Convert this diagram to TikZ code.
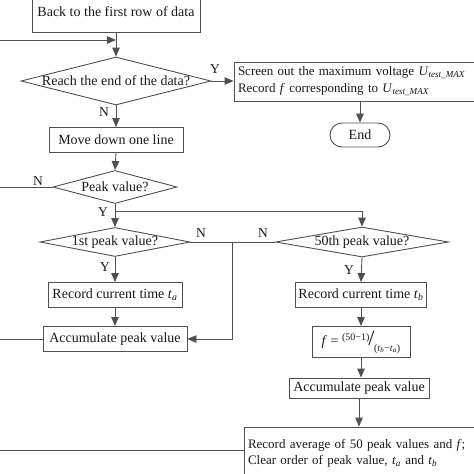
\documentclass[tikz,border=0pt]{standalone}
\usepackage{fontspec}
\setmainfont{Liberation Serif}
\usetikzlibrary{shapes.geometric,arrows.meta}
\definecolor{ln}{HTML}{505050}
\definecolor{tx}{HTML}{1A1A1A}
\newcommand{\itx}[1]{\textit{#1}}
\begin{document}
\begin{tikzpicture}[x=1pt,y=-1pt,
  every node/.style={font=\fontsize{14}{18}\selectfont, text=tx},
  box/.style={draw=ln, line width=0.9pt, rectangle, inner sep=0pt, fill=white},
  dia/.style={draw=ln, line width=0.9pt, diamond, inner sep=0pt, fill=white},
  term/.style={draw=ln, line width=0.9pt, rectangle, rounded corners=12pt, inner sep=0pt},
  lbl/.style={inner sep=0pt, font=\fontsize{13.5}{15}\selectfont},
  con/.style={draw=ln, line width=0.9pt},
  arr/.style={con, -{Triangle[length=9pt,width=7.5pt]}}]
\useasboundingbox (0,0) rectangle (474,474);
\clip (0,0) rectangle (474,474);
\fill[white] (0,0) rectangle (474,474);
% nodes
\node[box, minimum width=168pt, minimum height=40pt] (back) at (116,12) {\raisebox{-3pt}{Back to the first row of data}};
\node[dia, minimum width=190pt, minimum height=48pt] (reach) at (116,81) {\makebox[0pt]{Reach the end of the data?}};
\node[box, text width=247pt, inner xsep=4pt, minimum height=39pt, align=left,
      font=\fontsize{13}{18}\selectfont] (screen) at (361.5,81.5)
  {Screen out the maximum voltage \itx{U}\textsubscript{\itx{test\_MAX}}\\[-1pt]
   Record \itx{f} corresponding to \itx{U}\textsubscript{\itx{test\_MAX}}};
\node[term, minimum width=60pt, minimum height=24pt] (end) at (360,135) {End};
\node[box, minimum width=134pt, minimum height=25pt] (move) at (116,140) {Move down one line};
\node[dia, minimum width=124pt, minimum height=33pt] (peak) at (115,187) {\makebox[0pt]{Peak value?}};
\node[dia, minimum width=150pt, minimum height=29pt] (first) at (115,242) {\makebox[0pt]{1st peak value?}};
\node[dia, minimum width=173pt, minimum height=30pt] (fifty) at (362,242) {\makebox[0pt]{50th peak value?}};
\node[box, minimum width=134pt, minimum height=25pt] (rta) at (115,295) {Record current time \itx{t}\textsubscript{\itx{a}}};
\node[box, minimum width=131pt, minimum height=25pt] (rtb) at (361,295) {Record current time \itx{t}\textsubscript{\itx{b}}};
\node[box, minimum width=98pt, minimum height=31pt] (fbox) at (361,342)
  {\itx{f} = \raisebox{5pt}{\fontsize{10}{10}\selectfont(50−1)}\hspace{-1pt}{\fontsize{22}{22}\selectfont/}\hspace{-0.5pt}\raisebox{-6pt}{\fontsize{10}{10}\selectfont(\itx{t}\textsubscript{\itx{b}}−\itx{t}\textsubscript{\itx{a}})}};
\node[box, minimum width=144pt, minimum height=25pt] (acc1) at (115,339) {Accumulate peak value};
\node[box, minimum width=140pt, minimum height=20pt] (acc2) at (359,388) {Accumulate peak value};
\node[box, text width=237pt, inner xsep=4pt, minimum height=53pt, align=left,
      font=\fontsize{13}{18}\selectfont] (rec) at (366.5,453.5)
  {Record average of 50 peak values and \itx{f};\\[-2pt]
   Clear order of peak value, \itx{t}\textsubscript{\itx{a}} and \itx{t}\textsubscript{\itx{b}}\\[6pt]};
% coordinates
\coordinate (in1) at (0,40);
\coordinate (out1) at (0,187);
\coordinate (out2) at (0,339);
\coordinate (out3) at (0,450);
\coordinate (split) at (116,211);
\coordinate (j) at (232,242);
% connectors
\draw[arr] (in1) -- (back.south |- in1);
\draw[arr] (back.south) -- (reach.north);
\draw[arr] (reach.east) -- (screen.west |- reach.east);
\draw[arr] (end.north |- screen.south) -- (end.north);
\draw[arr] (reach.south) -- (move.north);
\draw[arr] (move.south) -- (peak.north);
\draw[con] (peak.west) -- (out1);
\draw[arr] (peak.south) -- (first.north);
\draw[arr] (split) -- (fifty.north |- split) -- (fifty.north);
\draw[con] (first.east) -- (fifty.west);
\draw[arr] (j) |- (acc1.east);
\draw[arr] (first.south) -- (rta.north);
\draw[arr] (rta.south) -- (acc1.north);
\draw[con] (acc1.west) -- (out2);
\draw[arr] (fifty.south) -- (rtb.north);
\draw[arr] (rtb.south) -- (rtb.south |- fbox.north);
\draw[arr] (fbox.south) -- (fbox.south |- acc2.north);
\draw[arr] (acc2.south) -- (acc2.south |- rec.north);
\draw[con] (rec.west |- out3) -- (out3);
% labels
\node[lbl] (yreach) at (215,69) {Y};
\node[lbl] (nreach) at (104,112) {N};
\node[lbl] (npeak) at (38,181) {N};
\node[lbl] (ypeak) at (103,212) {Y};
\node[lbl] (nfirst) at (201,233) {N};
\node[lbl] (nfifty) at (263,233) {N};
\node[lbl] (yfirst) at (105,267) {Y};
\node[lbl] (yfifty) at (349,270) {Y};
\end{tikzpicture}
\end{document}
